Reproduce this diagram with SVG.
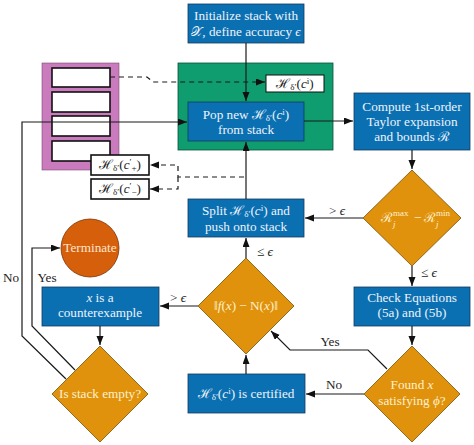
<svg xmlns="http://www.w3.org/2000/svg" width="474" height="445" viewBox="0 0 474 445" font-family="Liberation Serif, Times New Roman, serif" font-size="13.2">
<defs>
<marker id="ah" markerWidth="10" markerHeight="8" refX="9" refY="3.5" orient="auto" markerUnits="userSpaceOnUse">
<path d="M0,0 L9,3.5 L0,7 z" fill="#111"/>
</marker>
<style>
.bt{fill:#eef3fb;text-anchor:middle}
.dt{fill:#fff0cc;text-anchor:middle}
.ds{fill:#fff0cc}
.lb{fill:#222;text-anchor:middle}
.bx{fill:#0a70b2;stroke:#163a5e;stroke-width:0.8}
.dm{fill:#e0920c;stroke:#7a5208;stroke-width:0.8}
.wb{fill:#fff;stroke:#111;stroke-width:1.6}
.ln{fill:none;stroke:#1a1a1a;stroke-width:1.2}
.da{fill:none;stroke:#1a1a1a;stroke-width:1.2;stroke-dasharray:5,4}
.it{font-style:italic}
.sm{font-size:9px}
</style>
</defs>

<g id="stack">
<rect x="42" y="63" width="77" height="107" fill="#c97bbd" stroke="#7a4a74" stroke-width="0.6"/>
<rect class="wb" x="52" y="68" width="58" height="19"/>
<rect class="wb" x="52" y="92" width="58" height="20"/>
<rect class="wb" x="52" y="116" width="58" height="20"/>
<rect class="wb" x="52" y="141" width="58" height="20"/>
</g>

<g id="pop-region">
<rect x="178" y="63" width="155" height="87" fill="#0f9c6e" stroke="#0b4f39" stroke-width="0.8"/>
</g>

<g id="hci">
<rect x="266" y="75" width="58" height="17" fill="#fff" stroke="#111" stroke-width="1"/>
<text class="lb" x="295" y="88">ℋ<tspan class="sm" dy="2">δ′</tspan><tspan dy="-2">(</tspan><tspan class="it">c</tspan><tspan class="sm" dy="-4">i</tspan><tspan dy="4">)</tspan></text>
</g>

<g id="hcplus">
<rect class="wb" x="91" y="155" width="58" height="20"/>
<text class="lb" x="120" y="169">ℋ<tspan class="sm" dy="2">δ′</tspan><tspan dy="-2">(</tspan><tspan class="it">c</tspan><tspan class="sm" dy="-4">′</tspan><tspan class="sm" dy="6">+</tspan><tspan dy="-2">)</tspan></text>
</g>
<g id="hcminus">
<rect class="wb" x="91" y="179" width="58" height="20"/>
<text class="lb" x="120" y="193">ℋ<tspan class="sm" dy="2">δ′</tspan><tspan dy="-2">(</tspan><tspan class="it">c</tspan><tspan class="sm" dy="-4">′</tspan><tspan class="sm" dy="6">−</tspan><tspan dy="-2">)</tspan></text>
</g>

<g id="init">
<rect class="bx" x="188" y="4" width="116" height="39"/>
<text class="bt" x="246" y="20">Initialize stack with</text>
<text class="bt" x="246" y="36">𝒳, define accuracy <tspan class="it">ϵ</tspan></text>
</g>

<g id="pop">
<rect class="bx" x="188" y="102" width="116" height="39"/>
<text class="bt" x="246" y="119">Pop new ℋ<tspan class="sm" dy="2">δ′</tspan><tspan dy="-2">(</tspan><tspan class="it">c</tspan><tspan class="sm" dy="-4">i</tspan><tspan dy="4">)</tspan></text>
<text class="bt" x="246" y="134">from stack</text>
</g>

<g id="compute">
<rect class="bx" x="354" y="93" width="116" height="57"/>
<text class="bt" x="412" y="111">Compute 1st-order</text>
<text class="bt" x="412" y="126">Taylor expansion</text>
<text class="bt" x="412" y="141">and bounds ℛ</text>
</g>

<g id="rdiff">
<polygon class="dm" points="412,170 461,218 412,266 363,218"/>
<text class="ds" x="381" y="222">ℛ</text>
<text class="ds sm" x="393" y="216">max</text>
<text class="ds sm it" x="393" y="227">j</text>
<text class="ds" x="414" y="222">−</text>
<text class="ds" x="424" y="222">ℛ</text>
<text class="ds sm" x="436" y="216">min</text>
<text class="ds sm it" x="436" y="227">j</text>
</g>

<g id="split">
<rect class="bx" x="188" y="199" width="116" height="38"/>
<text class="bt" x="246" y="215">Split ℋ<tspan class="sm" dy="2">δ′</tspan><tspan dy="-2">(</tspan><tspan class="it">c</tspan><tspan class="sm" dy="-4">i</tspan><tspan dy="4">) and</tspan></text>
<text class="bt" x="246" y="231">push onto stack</text>
</g>

<g id="norm">
<polygon class="dm" points="246,258 294,306 246,354 198,306"/>
<text class="dt" x="246" y="310">‖<tspan class="it">f</tspan>(<tspan class="it">x</tspan>) − N(<tspan class="it">x</tspan>)‖</text>
</g>

<g id="check">
<rect class="bx" x="354" y="287" width="116" height="39"/>
<text class="bt" x="412" y="302">Check Equations</text>
<text class="bt" x="412" y="317">(5a) and (5b)</text>
</g>

<g id="found">
<polygon class="dm" points="412,346 460,394 412,442 364,394"/>
<text class="dt" x="412" y="389">Found <tspan class="it">x</tspan></text>
<text class="dt" x="412" y="405">satisfying <tspan class="it">ϕ</tspan>?</text>
</g>

<g id="certified">
<rect class="bx" x="188" y="374" width="117" height="39"/>
<text class="bt" x="246" y="398">ℋ<tspan class="sm" dy="2">δ′</tspan><tspan dy="-2">(</tspan><tspan class="it">c</tspan><tspan class="sm" dy="-4">i</tspan><tspan dy="4">) is certified</tspan></text>
</g>

<g id="counterexample">
<rect class="bx" x="42" y="287" width="117" height="39"/>
<text class="bt" x="100" y="302"><tspan class="it">x</tspan> is a</text>
<text class="bt" x="100" y="317">counterexample</text>
</g>

<g id="empty">
<polygon class="dm" points="100,346 148,394 100,442 52,394"/>
<text class="dt" x="100" y="398">Is stack empty?</text>
</g>

<g id="terminate">
<circle cx="90" cy="248" r="29" fill="#d65f0c" stroke="#7a3506" stroke-width="0.8"/>
<text x="90" y="252" style="fill:#ffe6cc;text-anchor:middle">Terminate</text>
</g>

<g id="connectors">
<path class="ln" d="M246,43 V101" marker-end="url(#ah)"/>
<path class="ln" d="M304,121 H353" marker-end="url(#ah)"/>
<path class="ln" d="M412,150 V169" marker-end="url(#ah)"/>
<path class="ln" d="M363,218 H305" marker-end="url(#ah)"/>
<path class="ln" d="M412,266 V286" marker-end="url(#ah)"/>
<path class="ln" d="M246,199 V142" marker-end="url(#ah)"/>
<path class="ln" d="M246,258 V238" marker-end="url(#ah)"/>
<path class="ln" d="M198,306 H160" marker-end="url(#ah)"/>
<path class="ln" d="M246,374 V355" marker-end="url(#ah)"/>
<path class="ln" d="M412,326 V345" marker-end="url(#ah)"/>
<path class="ln" d="M364,394 H306" marker-end="url(#ah)"/>
<path class="ln" d="M100,326 V345" marker-end="url(#ah)"/>
<path class="ln" d="M387,369 L368,350 H290 L271,331" marker-end="url(#ah)"/>
<path class="ln" d="M75,370 L32,326 V248 H60" marker-end="url(#ah)"/>
<path class="ln" d="M66,379 L22,336 V122 H187" marker-end="url(#ah)"/>
<path class="da" d="M110,77 H147 L153,82 H265" marker-end="url(#ah)"/>
<path class="da" d="M244,177 H178 V165 H150" marker-end="url(#ah)"/>
<path class="da" d="M178,177 V189 H150" marker-end="url(#ah)"/>
<text class="lb" x="337" y="215">&gt; <tspan class="it">ϵ</tspan></text>
<text class="lb" x="429" y="277">≤ <tspan class="it">ϵ</tspan></text>
<text class="lb" x="265" y="256">≤ <tspan class="it">ϵ</tspan></text>
<text class="lb" x="178" y="302">&gt; <tspan class="it">ϵ</tspan></text>
<text class="lb" x="334" y="389">No</text>
<text class="lb" x="330" y="346">Yes</text>
<text class="lb" x="47" y="282">Yes</text>
<text class="lb" x="11" y="282">No</text>
</g>
</svg>
